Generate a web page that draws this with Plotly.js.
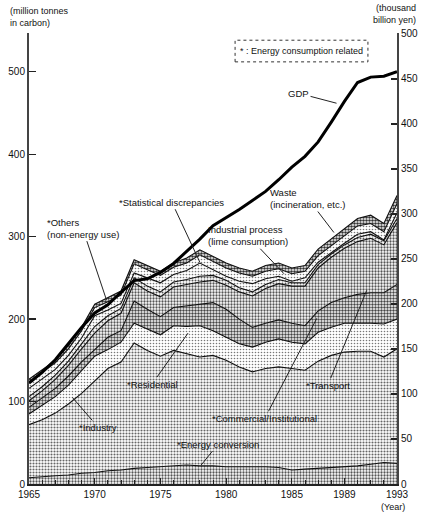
<!DOCTYPE html>
<html>
<head>
<meta charset="utf-8">
<script src="https://cdn.plot.ly/plotly-3.0.1.min.js"></script>
<style>
  html, body { margin: 0; padding: 0; background: #fff; }
  #chart { width: 424px; height: 515px; }
</style>
</head>
<body>
<div id="chart"></div>
<script>
let years = [1965, 1966, 1967, 1968, 1969, 1970, 1971, 1972, 1973, 1974,
             1975, 1976, 1977, 1978, 1979, 1980, 1981, 1982, 1983, 1984,
             1985, 1986, 1987, 1988, 1989, 1990, 1991, 1992, 1993];

// million tonnes in carbon, bottom of stack first
let energyConversion = [7.5, 9, 10, 11, 13, 14, 16, 17, 19, 20, 21, 22, 23, 22, 22, 21, 21, 21, 21, 20, 17, 18, 19, 20, 21, 22, 24, 26, 25];
let industry = [64.5, 69, 76, 86, 97, 111, 124, 131, 152, 142, 134, 140, 135, 132, 134, 129, 121, 115, 119, 122, 123, 120, 130, 136, 139, 139, 137, 128, 139];
let residential = [13, 17, 20, 23, 28, 30, 23, 24, 24, 26, 26, 30, 33, 38, 30, 28, 28, 30, 32, 34, 32, 32, 35, 34, 35, 34, 34, 40, 36];
let commercial = [8, 9, 10, 11, 10, 8, 15, 14, 27, 24, 22, 22, 25, 26, 34, 34, 30, 24, 23, 23, 23, 22, 26, 30, 31, 35, 37, 38, 42];
let transport = [8, 9, 11, 13, 16, 20, 20, 21, 22, 22, 24, 25, 26, 27, 27, 29, 33, 38, 42, 44, 45, 48, 52, 55, 60, 64, 66, 58, 75];
let others = [5, 5, 5, 5, 6, 8, 6, 6, 6, 6, 6, 6, 6, 7, 6, 6, 5, 5, 5, 5, 4, 4, 4, 4, 4, 5, 5, 5, 5];
let statDiscrepancies = [10, 9, 7, 7, 7, 13, 7, 6, 6, 10, 11, 9, 11, 16, 7, 5, 8, 10, 7, 4, 2, 6, 3, 2, 2, 4, 3, 1, 7];
let industrialProcess = [8, 8, 8, 8, 9, 10, 10, 10, 11, 10, 9, 9, 9, 10, 10, 10, 10, 9, 9, 9, 9, 8, 8, 8, 9, 10, 10, 10, 11];
let waste = [3, 3, 3, 4, 4, 4, 5, 5, 5, 5, 5, 5, 6, 6, 6, 6, 6, 6, 7, 7, 7, 7, 8, 8, 9, 9, 10, 10, 10];

// thousand billion yen
let gdp = [112, 124, 138, 156, 174, 190, 199, 213, 226, 228, 235, 245, 258, 272, 287, 296, 305, 315, 325, 338, 352, 364, 380, 402, 425, 446, 452, 453, 458];

let xTicks = [1965, 1970, 1975, 1980, 1985, 1989, 1993];
let leftTicks = [0, 100, 200, 300, 400, 500];
let rightTicks = [0, 50, 100, 150, 200, 250, 300, 350, 400, 450, 500];

let font = 'Liberation Sans Narrow, Arial Narrow, Liberation Sans, sans-serif';

function band(name, values, fg, solidity) {
  return {
    x: years,
    y: values,
    name: name,
    type: 'scatter',
    mode: 'lines',
    stackgroup: 'co2',
    line: {color: '#111', width: 1.1},
    fillcolor: 'rgba(255,255,255,0)',
    fillpattern: {shape: '.', bgcolor: '#ffffff', fgcolor: fg, size: 3, solidity: solidity},
    hoverinfo: 'skip'
  };
}

let data = [
  band('Energy conversion', energyConversion, '#555', 0.45),
  band('Industry', industry, '#666', 0.38),
  band('Residential', residential, '#777', 0.22),
  band('Commercial/Institutional', commercial, '#444', 0.5),
  band('Transport', transport, '#555', 0.45),
  band('Others', others, '#555', 0.35),
  band('Statistical discrepancies', statDiscrepancies, '#777', 0.25),
  band('Industrial process', industrialProcess, '#777', 0.22),
  band('Waste', waste, '#333', 0.55),
  {
    x: years,
    y: gdp,
    name: 'GDP',
    type: 'scatter',
    mode: 'lines',
    yaxis: 'y2',
    line: {color: '#000', width: 3},
    hoverinfo: 'skip'
  }
];

function label(text, x, y, ax, ay, yref) {
  return {
    text: text, x: x, y: y, xref: 'x', yref: yref || 'y',
    ax: ax, ay: ay, showarrow: true, arrowhead: 0, arrowwidth: 1, arrowcolor: '#222',
    align: 'left', font: {family: font, size: 9.5, color: '#111'}
  };
}

let layout = {
  width: 424,
  height: 515,
  margin: {l: 29, r: 27, t: 33, b: 31},
  paper_bgcolor: '#fff',
  plot_bgcolor: '#fff',
  showlegend: false,
  font: {family: font, size: 10, color: '#111'},
  xaxis: {
    range: [1965, 1993],
    tickmode: 'array',
    tickvals: xTicks,
    ticks: 'inside',
    ticklen: 6,
    tickcolor: '#222',
    showgrid: false,
    zeroline: false,
    showline: true,
    linecolor: '#222',
    linewidth: 1.5,
    tickfont: {family: font, size: 10},
    minor: {tickmode: 'linear', tick0: 1965, dtick: 1, ticks: 'inside', ticklen: 4, tickcolor: '#222', showgrid: false}
  },
  yaxis: {
    range: [0, 547],
    tickmode: 'array',
    tickvals: leftTicks,
    ticks: 'inside',
    ticklen: 7,
    tickwidth: 1.3,
    tickcolor: '#222',
    showgrid: false,
    zeroline: false,
    showline: true,
    linecolor: '#444',
    linewidth: 2,
    tickfont: {family: font, size: 10}
  },
  yaxis2: {
    range: [0, 501],
    overlaying: 'y',
    side: 'right',
    tickmode: 'array',
    tickvals: rightTicks,
    ticks: 'inside',
    ticklen: 6,
    tickwidth: 1.3,
    tickcolor: '#222',
    showgrid: false,
    zeroline: false,
    showline: true,
    linecolor: '#444',
    linewidth: 2,
    tickfont: {family: font, size: 10}
  },
  shapes: [
    {type: 'rect', xref: 'paper', yref: 'paper', x0: 0.56, x1: 0.921, y0: 0.936, y1: 0.984,
     line: {color: '#333', width: 1, dash: 'dot'}, fillcolor: 'rgba(0,0,0,0)'}
  ],
  annotations: [
    {text: '* : Energy consumption related', xref: 'paper', yref: 'paper', x: 0.74, y: 0.96,
     xanchor: 'center', yanchor: 'middle', showarrow: false, font: {family: font, size: 9}},
    {text: '(million tonnes<br>in carbon)', xref: 'paper', yref: 'paper', x: -0.058, y: 1.007,
     xanchor: 'left', yanchor: 'bottom', align: 'left', showarrow: false, font: {family: font, size: 9}},
    {text: '(thousand<br>billion yen)', xref: 'paper', yref: 'paper', x: 1.057, y: 1.013,
     xanchor: 'right', yanchor: 'bottom', align: 'right', showarrow: false, font: {family: font, size: 9}},
    {text: '(Year)', xref: 'paper', yref: 'paper', x: 0.99, y: -0.05,
     xanchor: 'center', yanchor: 'middle', showarrow: false, font: {family: font, size: 9}},
    label('GDP', 1988.4, 423, -38, -10, 'y2'),
    label('*Industry', 1968.3, 105, 26, 30),
    label('*Residential', 1977.1, 183, -36, 51),
    label('*Commercial/Institutional', 1986.9, 201, -52, 100),
    label('*Transport', 1990.7, 235, -39, 95),
    label('*Energy conversion', 1978.1, 23, 17, -21),
    label('*Others<br>(non-energy use)', 1970.9, 223, -24, -72),
    label('*Statistical discrepancies', 1978.0, 269, -28, -60),
    label('Industrial process<br>(lime consumption)', 1984.4, 255, -36, -38),
    label('Waste<br>(incineration, etc.)', 1988.2, 305, -26, -34)
  ]
};

Plotly.newPlot('chart', data, layout, {staticPlot: true});
</script>
</body>
</html>
